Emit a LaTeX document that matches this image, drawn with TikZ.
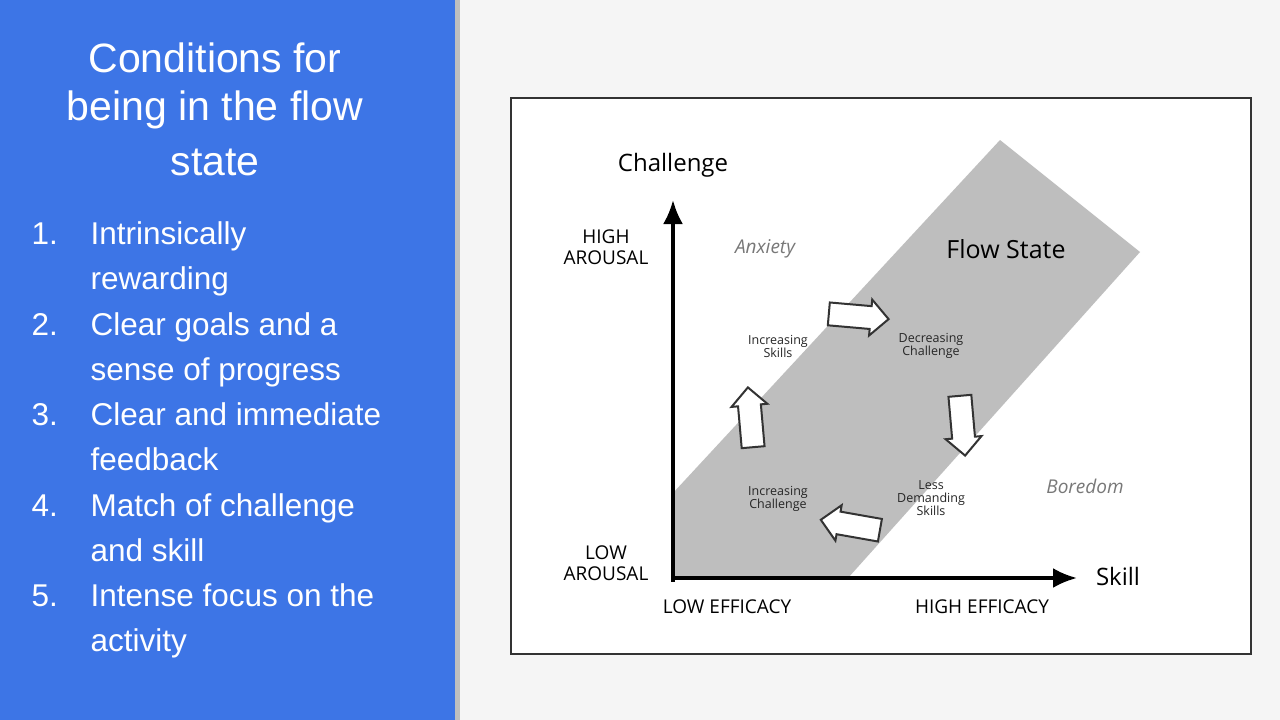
\documentclass[tikz,border=0pt]{standalone}
\usepackage{fontspec}
\setmainfont{Liberation Sans}
\newfontfamily\dfont{Open Sans}
\usetikzlibrary{shapes.arrows,arrows.meta}
\definecolor{panel}{RGB}{61,117,230}
\definecolor{band}{RGB}{190,190,190}
\definecolor{lbl}{RGB}{120,120,120}
\begin{document}
\begin{tikzpicture}[x=1pt,y=-1pt,
  title/.style={text=white,font=\fontsize{41}{43}\selectfont,anchor=center},
  item/.style={text=white,font=\fontsize{31.5}{33}\selectfont,anchor=base west},
  ax/.style={font=\dfont\fontsize{19}{21}\selectfont},
  tiny/.style={font=\dfont\fontsize{12.5}{13}\selectfont,align=center,text=black!85},
  zone/.style={font=\dfont\itshape\fontsize{19}{20}\selectfont,text=lbl},
  barrow/.style={single arrow,draw=black!80,fill=white,line width=2pt,minimum height=60pt,minimum width=36pt,single arrow head extend=4pt,inner sep=6pt}]
\useasboundingbox (0,0) rectangle (1280,720);
\fill[black!4] (0,0) rectangle (1280,720);
\fill[black!25] (455,0) rectangle (460,720);
\fill[panel] (0,0) rectangle (455,720);
\node[title] (t1) at (215,58) {Conditions for};
\node[title] (t2) at (215,110) {being in the flow};
\node[title] (t3) at (215,162) {state};
\foreach \n/\y/\a/\b in {1/244/Intrinsically/rewarding,2/335/Clear goals and a/sense of progress,3/425/Clear and immediate/feedback,4/516/Match of challenge/and skill,5/606/Intense focus on the/activity}{
  \node[item] (n\n) at (28,\y) {\n.};
  \node[item] (a\n) at (87,\y) {\a};
  \node[item] (b\n) at (87,\y+45) {\b};
}
\draw[fill=white,draw=black!80,line width=1.2pt] (511,98) rectangle (1251,654);
\fill[band] (673,493) -- (1000,140) -- (1140,252) -- (848,578) -- (673,578) -- cycle;
\coordinate (ytop) at (673,200);
\coordinate (xend) at (1077,578);
\draw[line width=3.5pt,-{Latex[length=24pt,width=20pt]}] (673,581.7) -- (ytop);
\draw[line width=3.5pt,-{Latex[length=24pt,width=20pt]}] (671.3,578) -- (xend);
\node[ax,font=\dfont\fontsize{24}{25}\selectfont] (ch) at (673,165) {Challenge};
\node[ax,font=\dfont\fontsize{24}{25}\selectfont] (sk) at (1118,576) {Skill};
\node[ax,align=center] (ha) at (606,247) {HIGH\\AROUSAL};
\node[ax,align=center] (la) at (606,563) {LOW\\AROUSAL};
\node[ax] (le) at (727,607) {LOW EFFICACY};
\node[ax] (he) at (982,607) {HIGH EFFICACY};
\node[zone] (an) at (765,249) {Anxiety};
\node[zone] (bo) at (1085,486) {Boredom};
\node[font=\dfont\fontsize{25}{26}\selectfont] (fs) at (1006,249) {Flow State};
\node[tiny] (is) at (778,346) {Increasing\\Skills};
\node[tiny] (dc) at (931,346) {Decreasing\\Challenge};
\node[tiny] (ic) at (778,499) {Increasing\\Challenge};
\node[tiny] (ld) at (931,498) {Less\\Demanding\\Skills};
\node[barrow,rotate=-5] (ar1) at (853,316) {};
\node[barrow,rotate=-85] (ar2) at (962,420) {};
\node[barrow,rotate=170] (ar3) at (856,526) {};
\node[barrow,rotate=95] (ar4) at (751,423) {};
\end{tikzpicture}
\end{document}
